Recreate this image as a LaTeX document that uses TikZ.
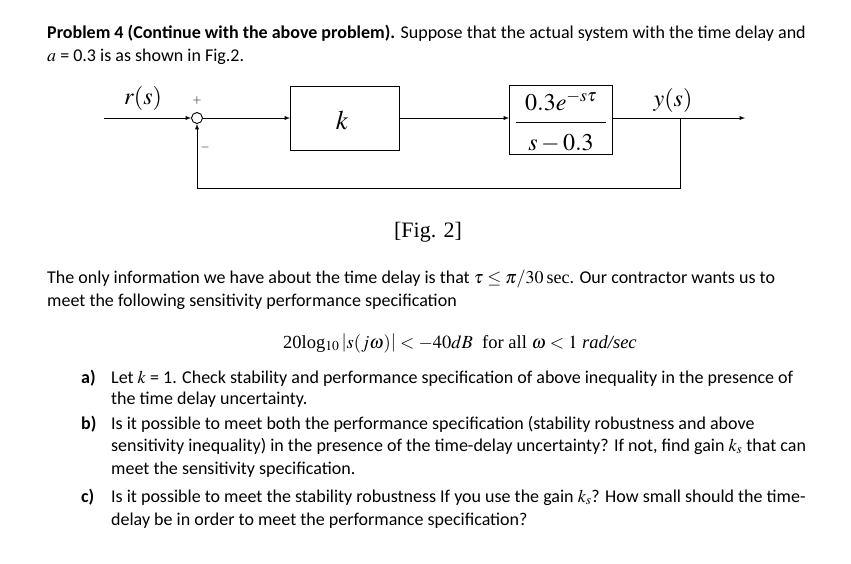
\documentclass[tikz,border=0pt]{standalone}
\usepackage{mathptmx}
\usepackage{fontspec}
\setmainfont{Carlito}
\newfontfamily\serif{Liberation Serif}
\begin{document}
\begin{tikzpicture}[x=1pt,y=-1pt,
  blk/.style={draw,line width=0.9pt,inner sep=0pt},
  sig/.style={line width=0.9pt,-latex},
  big/.style={font=\fontsize{24}{28}\selectfont},
  txt/.style={anchor=base west,inner sep=0pt,font=\fontsize{18}{20}\selectfont}]
\useasboundingbox[fill=white] (0,0) rectangle (851,563);
\node[txt] (l1) at (47,38) {\bfseries Problem 4 (Continue with the above problem).\mdseries{} Suppose that the actual system with the time delay and};
\node[txt] (l2) at (47,61) {$a$ = 0.3 is as shown in Fig.2.};
% diagram
\node[draw,circle,line width=0.9pt,minimum size=11pt,inner sep=0pt] (sum) at (197,118) {};
\node[blk,minimum width=109pt,minimum height=64pt] (k) at (345,118) {};
\node[font=\fontsize{27}{30}\selectfont] (kt) at (342,120) {$k$};
\node[blk,minimum width=103pt,minimum height=69pt] (g) at (561,120) {};
\node[big] (gn) at (561,101) {$0.3e^{-s\tau}$};
\node[big] (gd) at (561,143) {$s-0.3$};
\draw[line width=0.8pt] (516,122) -- (606,122);
\coordinate (in) at (104,118);
\coordinate (out) at (745,118);
\coordinate (br) at (680,118);
\coordinate (fb) at (680,188);
\draw[sig] (in) -- (sum);
\draw[sig] (sum) -- (k);
\draw[sig] (k.east) -- (k.east -| g.west);
\draw[sig] (k.east -| g.east) -- (out);
\draw[sig] (br) -- (fb) -| (sum);
\node[big] (r) at (143,98) {$r(s)$};
\node (p) at (197,100) {\large$+$};
\node (m) at (205,147) {\large$-$};
\node[big] (y) at (673,100) {$y(s)$};
\node (fig) at (428,232) {\serif\fontsize{22}{26}\selectfont[Fig. 2]};
\node[txt] (l3) at (47,283) {The only information we have about the time delay is that $\tau\le\pi/30$\,{\serif sec}. Our contractor wants us to};
\node[txt] (l4) at (47,306) {meet the following sensitivity performance specification};
\node[anchor=base west,inner sep=0pt] (eq) at (283,348) {\serif\fontsize{18.5}{22}\selectfont 20log$_{10}\left|s(j\omega)\right|<-40dB$\ \ for all $\omega<1$ \textit{rad/sec}};
\node[txt] (a) at (81,383) {\bfseries a)};
\node[txt] (a1) at (111,383) {Let $k$ = 1. Check stability and performance specification of above inequality in the presence of};
\node[txt] (a2) at (111,404) {the time delay uncertainty.};
\node[txt] (b) at (81,429) {\bfseries b)};
\node[txt] (b1) at (111,429) {Is it possible to meet both the performance specification (stability robustness and above};
\node[txt] (b2) at (111,451) {sensitivity inequality) in the presence of the time-delay uncertainty? If not, find gain $k_s$ that can};
\node[txt] (b3) at (111,474) {meet the sensitivity specification.};
\node[txt] (c) at (81,502) {\bfseries c)};
\node[txt] (c1) at (111,502) {Is it possible to meet the stability robustness If you use the gain $k_s$? How small should the time-};
\node[txt] (c2) at (111,525) {delay be in order to meet the performance specification?};
\end{tikzpicture}
\end{document}
